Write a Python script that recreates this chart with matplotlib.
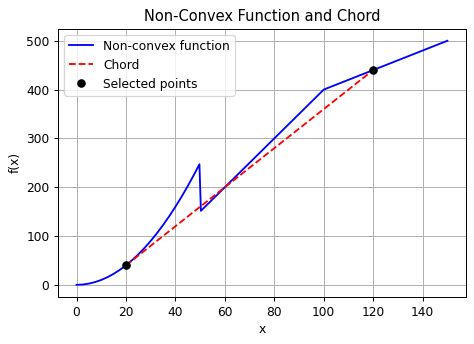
import matplotlib
matplotlib.use("Agg")
import matplotlib.pyplot as plt

# Sampled values of the piecewise function
x_vals = [0, 2.5, 5, 7.5, 10, 12.5, 15, 17.5, 20, 22.5, 25, 27.5, 30, 32.5, 35, 37.5,
          40, 42.5, 45, 47.5, 49.7, 50.3, 60, 70, 80, 90, 100, 110, 120, 130, 140, 150]
y_vals = [0, 0.6, 2.5, 5.6, 10, 15.6, 22.5, 30.6, 40, 50.6, 62.5, 75.6, 90, 105.6, 122.5, 140.6,
          160, 180.6, 202.5, 225.6, 247, 151.5, 200, 250, 300, 350, 400, 420, 440, 460, 480, 500]

# Chord endpoints
chord_x = [20, 120]
chord_y = [40, 440]

fig, ax = plt.subplots(figsize=(474 / 88, 344 / 88), dpi=88)
ax.plot(x_vals, y_vals, color="blue", label="Non-convex function")
ax.plot(chord_x, chord_y, "r--", label="Chord")
ax.plot(chord_x, chord_y, "ko", label="Selected points")
ax.set_title("Non-Convex Function and Chord")
ax.set_xlabel("x")
ax.set_ylabel("f(x)")
ax.grid(True)
ax.legend(loc="upper left")
fig.subplots_adjust(left=0.1224, right=0.983, top=0.917, bottom=0.1366)
fig.savefig("out.png")
